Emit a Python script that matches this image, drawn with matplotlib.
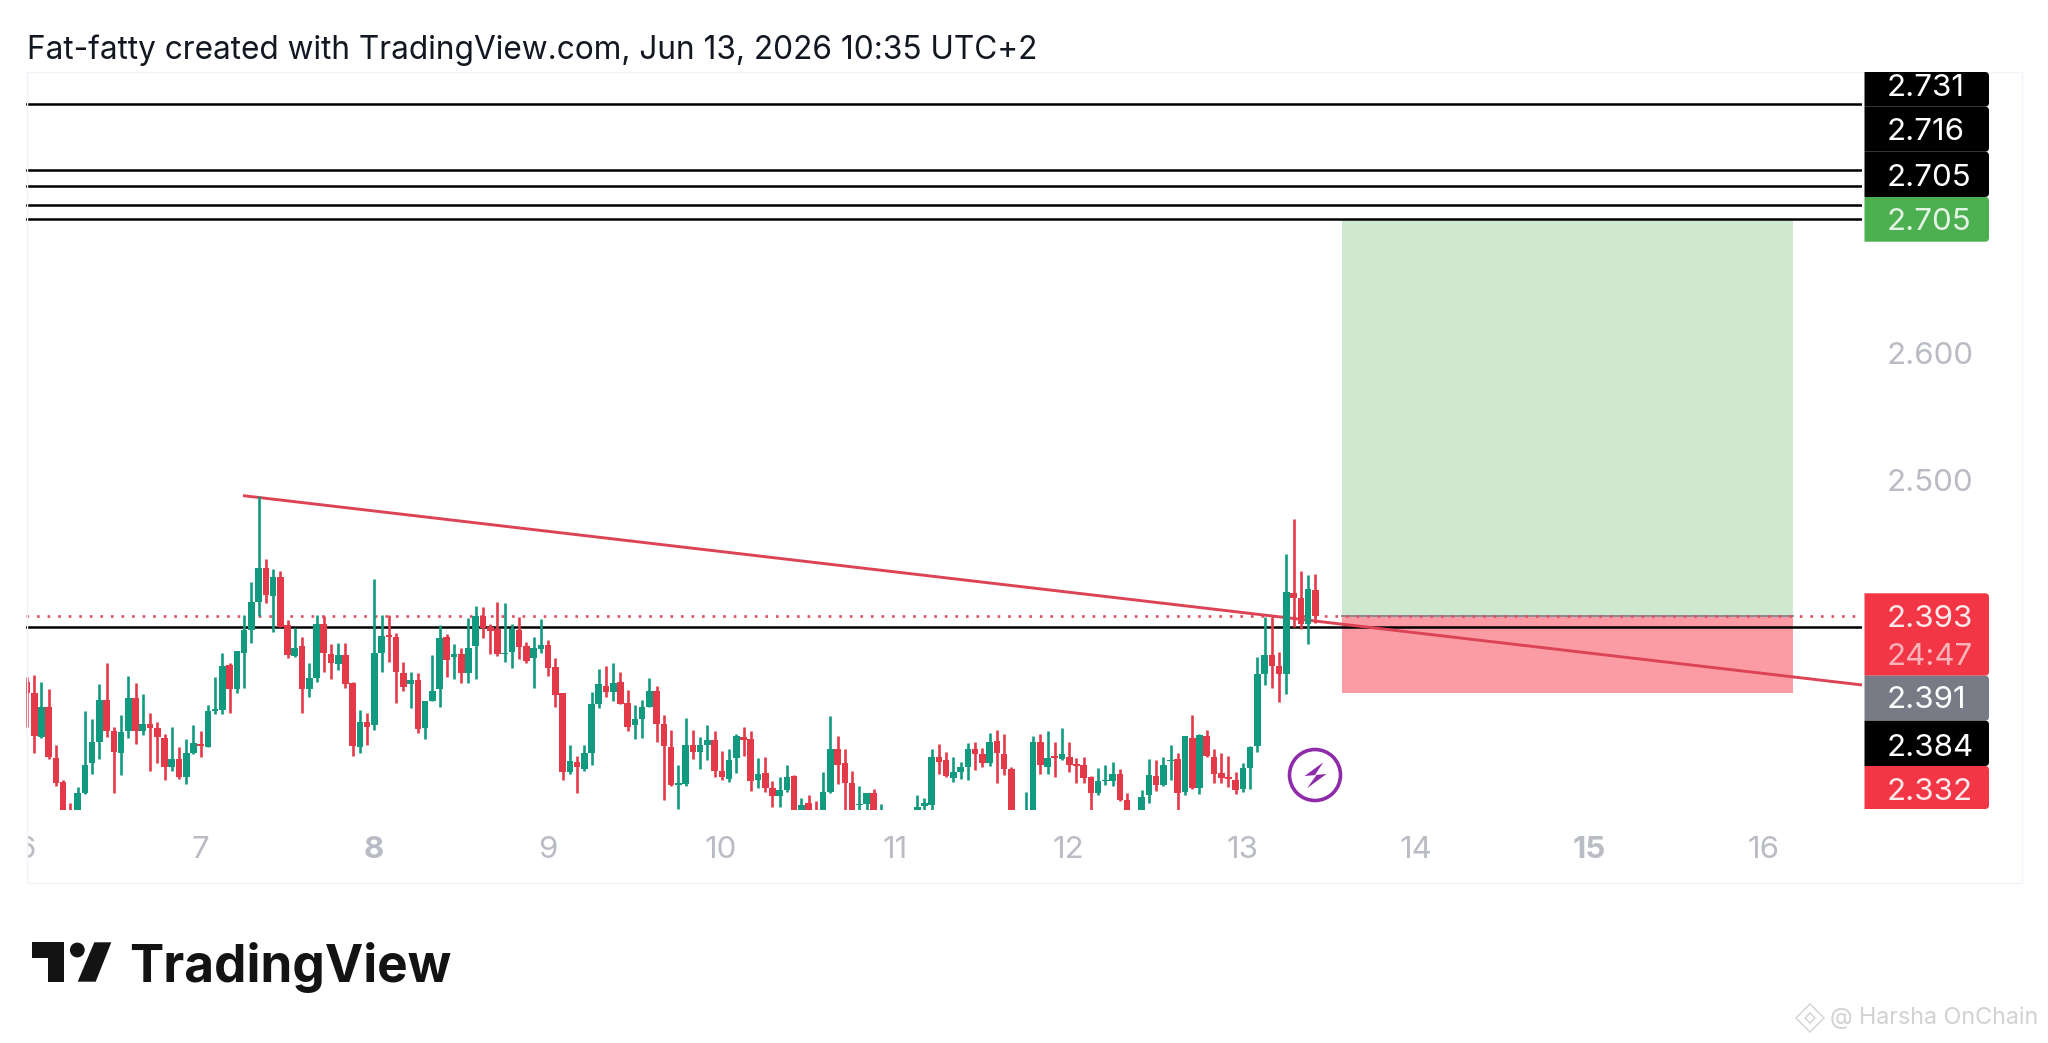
import numpy as np
import matplotlib
matplotlib.use("Agg")
import matplotlib.pyplot as plt
from matplotlib.patches import Rectangle, Polygon, Circle, PathPatch
from matplotlib.path import Path
from matplotlib.transforms import Bbox

FONT = ["Inter", "DejaVu Sans"]
plt.rcParams["font.family"] = FONT

TITLE = "Fat-fatty created with TradingView.com, Jun 13, 2026 10:35 UTC+2"
n = float("nan")

# Hourly candles, prices in thousandths; every candle not listed in falling rises
falling = [0, 1, 3, 4, 5, 6, 11, 12, 15, 17, 18, 19, 21, 24, 28, 33, 35, 36, 38, 41, 42, 44, 45, 47,
           50, 51, 52, 54, 58, 60, 63, 64, 65, 68, 69, 72, 73, 74, 76, 80, 82, 83, 87, 88, 89, 92,
           95, 96, 99, 100, 102, 103, 106, 108, 109, 112, 113, 114, 117, 126, 127, 131, 132, 134,
           135, 136, 140, 142, 144, 145, 146, 147, 151, 152, 156, 159, 161, 163, 164, 165, 166,
           167, 172, 173, 175, 176, 178]

highs = [2345.1, 2346.4, 2340.7, 2335.2, 2291.3, 2263.8, 2245.9, 2258.5, 2318.4, 2312.3,
         2339.4, 2355.6, 2305.8, 2314.9, 2345.9, 2339.9, 2331.2, 2317, 2309.7, 2300.5,
         2305.8, 2289.5, 2295.8, 2307.1, 2302.6, 2322.8, 2345.1, 2363.5, 2355.6, 2365.3,
         2393.7, 2419.9, 2487.7, 2437.5, 2429.9, 2428.3, 2389.8, 2383.2, 2376.1, 2355.6,
         2393.7, 2392.9, 2370.9, 2371.4, 2371.9, 2340.7, 2318.9, 2317, 2421.8, 2393.7,
         2393.7, 2379.3, 2356.9, 2349.1, 2348.3, 2326.2, 2362.2, 2385.8, 2378.5, 2370.9,
         2368, 2391.1, 2400.8, 2399.7, 2386.6, 2404.2, 2402.9, 2386.6, 2391.9, 2372.7,
         2376.1, 2390.3, 2374, 2360.1, 2332.5, 2291.3, 2282.7, 2291.3, 2332.8, 2350.9,
         2353.8, 2355.6, 2349.1, 2334.6, 2323.3, 2326.8, 2344.3, 2337.8, 2314.9, 2303.1,
         2276.1, 2312.8, 2303.1, 2297.9, 2307.1, 2302.3, 2286.9, 2288.7, 2300.5, 2305.8,
         2302.3, 2281.3, 2282.1, 2263.2, 2265.9, 2275.6, 2267.7, 2250.1, 2251.9, 2247.5,
         2270.3, 2314.2, 2298.7, 2288.7, 2270.8, 2259, 2254, 2257.2, 2244.9, n,
         n, n, n, 2252, 2249.9, 2288.7, 2291.9, 2286.1, 2282.2, 2277.7,
         2293.2, 2294, 2289.3, 2301.1, 2303.2, 2300.5, 2274.3, n, 2254.1, 2298.7,
         2300, 2302.4, 2293.5, 2304.5, 2293.5, 2281.6, 2282.2, 2267, 2273, 2276.1,
         2277.7, 2272.2, 2253.8, n, 2256.4, 2280.1, 2279.6, 2282.2, 2291.4, 2284.8,
         2298.4, 2315, 2300.5, 2303.2, 2288.7, 2284.8, 2282.7, 2270.4, 2277, 2290.8,
         2360.4, 2392.4, 2392.4, 2364.9, 2441.5, 2469.3, 2428.6, 2425.2, 2426]

body_tops = [2341.2, 2332, 2321, 2321.5, 2281.6, 2262.2, 2235, 2253.3, 2276.1, 2293.9,
             2326.8, 2326.8, 2302.6, 2301.8, 2328.6, 2328.6, 2307.6, 2307.6, 2305.2, 2297.1,
             2280.8, 2280.8, 2284.8, 2293.2, 2292.6, 2318.4, 2319.7, 2353.5, 2354.3, 2365.3,
             2381.9, 2404.2, 2430.4, 2430.4, 2423.9, 2423.4, 2385.8, 2368, 2369.3, 2343.8,
             2386.6, 2386.6, 2363, 2362.2, 2362.2, 2340.4, 2309.7, 2309.7, 2363.5, 2377.4,
             2377.9, 2376.1, 2348.5, 2342.5, 2342.5, 2326, 2333.8, 2375.3, 2376.1, 2362.7,
             2362.7, 2368, 2392.9, 2392.9, 2384, 2382.7, 2364, 2382.4, 2381.9, 2369.3,
             2367.4, 2370.1, 2370.1, 2353, 2332.5, 2279, 2277.7, 2284.8, 2324.1, 2339.1,
             2337.8, 2339.9, 2340.7, 2324.9, 2312.3, 2321.5, 2333.8, 2333.8, 2307.6, 2290,
             2261.6, 2291.8, 2291.8, 2291.8, 2295, 2295, 2270.8, 2280, 2298.7, 2297.9,
             2296, 2268.5, 2269.8, 2258, 2256.4, 2265.9, 2267.2, 2244.6, 2245.9, 2238,
             2254.6, 2288.2, 2288.2, 2276.9, 2261.7, 2245.4, 2253.3, 2254, 2236, n,
             n, n, n, 2242.8, 2246, 2282.2, 2281.7, 2279.6, 2270.4, 2274.3,
             2288.7, 2288.7, 2284, 2294, 2294.8, 2284, 2272.2, n, 2238, 2293.5,
             2293.5, 2281.6, 2282.7, 2284.3, 2282.2, 2276.4, 2275.6, 2266.4, 2263, 2264.3,
             2268.5, 2269, 2248, n, 2250.7, 2267.7, 2267.2, 2275.6, 2279.8, 2280.1,
             2298.4, 2296.6, 2299.2, 2298.7, 2282.2, 2269.6, 2266.4, 2263.8, 2273, 2290,
             2347, 2362.2, 2362.2, 2353.6, 2411.6, 2410.8, 2406.9, 2414, 2413.4]

body_bots = [2332, 2298.4, 2297.9, 2282.1, 2261.7, 2235, 2230, 2238, 2253.3, 2276.9,
             2293.9, 2302.6, 2286.1, 2284.8, 2302.6, 2302.6, 2302.6, 2305.2, 2297.9, 2274.3,
             2274.3, 2265.9, 2265.9, 2284.8, 2290.8, 2290, 2318.4, 2318.9, 2335.2, 2335.2,
             2364, 2381.9, 2404.2, 2409.4, 2408.9, 2384.5, 2362.2, 2361.7, 2335.4, 2335.4,
             2343.8, 2363.5, 2355.6, 2355.1, 2339.4, 2290.8, 2289.5, 2305.8, 2307.1, 2363.5,
             2376.6, 2349.1, 2337.3, 2339.4, 2303.7, 2305, 2326.2, 2335.2, 2358.3, 2360.4,
             2348.3, 2348.3, 2369.5, 2383.2, 2381.4, 2362.7, 2362.7, 2364.8, 2368.8, 2357.5,
             2360.1, 2366.9, 2351.7, 2330.7, 2270.3, 2270.3, 2274.3, 2272.4, 2285.5, 2323.6,
             2333.3, 2333.3, 2323.6, 2305.8, 2307.1, 2312.3, 2321.5, 2307.6, 2290.8, 2259.8,
             2260.3, 2260.6, 2286.1, 2286.1, 2291.8, 2270.8, 2265.9, 2265, 2281.6, 2295.3,
             2263.2, 2263.8, 2258, 2251.4, 2251.4, 2255.9, 2238, 2238, 2238, 2232,
             2238, 2254.6, 2275.6, 2261.7, 2238, 2244.1, 2245.4, 2238, 2232, n,
             n, n, n, 2238, 2243.3, 2244.1, 2277.7, 2267, 2265.6, 2270.4,
             2274.3, 2284.3, 2277.5, 2277.5, 2284.8, 2272.2, 2238, n, 2234, 2238,
             2275.6, 2274.3, 2281.6, 2280.1, 2275.6, 2275.1, 2265.1, 2253.3, 2253.8, 2263,
             2263.3, 2248, 2238, n, 2238, 2252, 2259.9, 2259.9, 2278.8, 2253.8,
             2254.6, 2258, 2258, 2282.7, 2269, 2265.1, 2264.6, 2255.9, 2257.2, 2273,
             2290.8, 2347, 2353.6, 2347, 2347.3, 2406.9, 2386.6, 2386.6, 2393]

lows = [2305.8, 2284.8, 2296.6, 2280.8, 2259, 2230, 2225, 2235, 2252.7, 2269,
        2280.8, 2297.9, 2253.8, 2268.2, 2296.6, 2292.6, 2299.2, 2270.8, 2276.9, 2263.8,
        2271.1, 2264.5, 2261.1, 2284.2, 2282.1, 2289.5, 2315.5, 2315.5, 2317, 2332,
        2336.7, 2371.4, 2392.9, 2403.4, 2380.6, 2384, 2359.6, 2360.9, 2317, 2328.9,
        2341.2, 2349.1, 2343.3, 2350.4, 2336.7, 2282.9, 2285.5, 2291.3, 2303.1, 2349.1,
        2356.9, 2324.7, 2334.1, 2320.2, 2301, 2295.8, 2326, 2321.5, 2345.1, 2343.3,
        2339.9, 2339.9, 2343.3, 2375.3, 2363, 2361.4, 2356.4, 2351.7, 2359, 2355.6,
        2336.5, 2363.5, 2345.7, 2321.5, 2264.3, 2268.5, 2254, 2270.8, 2275.6, 2320.2,
        2328.9, 2326.2, 2323.6, 2302.6, 2295.8, 2296.6, 2321, 2293.9, 2248.5, 2259.3,
        2241.4, 2259.3, 2280.3, 2272.4, 2280, 2265.9, 2263.8, 2262.4, 2269.5, 2282.9,
        2255.4, 2257.7, 2254.6, 2242.8, 2242.8, 2254.6, 2235, 2235, 2235, 2230,
        2235, 2254, 2261.1, 2238, 2235, 2238, 2238, 2235, 2228, n,
        n, n, n, 2235, 2238, 2238, 2268.5, 2266.4, 2262.5, 2264.6,
        2264.3, 2271.7, 2274.3, 2275.1, 2261.7, 2267.7, 2235, n, 2232, 2235,
        2268.5, 2269, 2266.4, 2279.6, 2270.4, 2261.7, 2261.2, 2238, 2252, 2259.9,
        2259.1, 2247.5, 2235, n, 2235, 2246, 2255.4, 2259.1, 2263.8, 2240,
        2252, 2257.2, 2252.8, 2282.2, 2261.7, 2261.7, 2258.6, 2252.8, 2254.1, 2257.2,
        2285.6, 2338.6, 2336, 2325, 2331.5, 2384, 2382.7, 2370.9, 2387.2]

day_ticks = [6, 7, 8, 9, 10, 11, 12, 13, 14, 15, 16]
bold_days = [8, 15]
price_ticks = [2.5, 2.6]
level_lines = [2.7957, 2.744, 2.7312, 2.7165, 2.7052, 2.384]
last_price = 2.393
entry_price = 2.393
target_price = 2.705
stop_price = 2.332
box_days = [13.574, 16.17]
trend_days = [7.2476, 16.568]
trend_prices = [2.4877, 2.3387]
first_candle_day = 6.004

GREEN, RED, BLACK = "#129a80", "#e33a49", "#000000"
W, H = 2048, 1043
fig = plt.figure(figsize=(W / 100, H / 100), dpi=100, facecolor="white")
L, R, T, B = 26.3, 1862, 72, 810
ax = fig.add_axes([L / W, 1 - B / H, (R - L) / W, (B - T) / H])
ax.set_xlim(6.0, 16.568)
ax.set_ylim(2.2403, 2.8211)
for s in ax.spines.values():
    s.set_visible(False)

hi, lo = np.array(highs) / 1000, np.array(lows) / 1000
top, bot = np.array(body_tops) / 1000, np.array(body_bots) / 1000
days = first_candle_day + np.arange(len(hi)) / 24
cols = np.array([RED if i in set(falling) else GREEN for i in range(len(hi))])

# position boxes
ax.add_patch(Rectangle((box_days[0], entry_price), box_days[1] - box_days[0], target_price - entry_price,
                       fc="#cfe8d0", ec="none", zorder=1))
ax.add_patch(Rectangle((box_days[0], stop_price), box_days[1] - box_days[0], entry_price - stop_price,
                       fc="#fb9ca5", ec="none", zorder=1))
ax.plot(box_days, [entry_price, entry_price], color="#8a8a90", lw=1.4, zorder=1.5)
for v in level_lines:
    ax.axhline(v, color=BLACK, lw=1.8, zorder=2)
ax.axhline(last_price, color="#d9505e", lw=1.9, ls=(0, (1, 3)), zorder=2)
ax.plot(trend_days, trend_prices, color="#dc4455", lw=2.1, zorder=2.5, solid_capstyle="butt")

ok = ~np.isnan(hi)
ax.vlines(days[ok], lo[ok], hi[ok], colors=cols[ok], lw=1.9, zorder=3)
ax.bar(days[ok], (top - bot)[ok], bottom=bot[ok], width=6.6 / 173.7, color=cols[ok], lw=0, zorder=3.1)

ax.set_xticks(day_ticks)
ax.set_xticklabels([str(d) for d in day_ticks])
ax.yaxis.tick_right()
ax.set_yticks(price_ticks)
ax.set_yticklabels([f"{p:.3f}" for p in price_ticks])
ax.tick_params(axis="both", length=0, labelcolor="#b9bcc4", labelsize=22.5)
ax.tick_params(axis="x", pad=19)
ax.tick_params(axis="y", pad=18)
clip = Bbox([[27, 0], [W, H]])
for d, lab in zip(day_ticks, ax.get_xticklabels()):
    lab.set_clip_box(clip)
    lab.set_clip_on(True)
    if d in bold_days:
        lab.set_fontweight("bold")

# overlay in figure pixels
ov = fig.add_axes([0, 0, 1, 1], facecolor="none")
ov.set_xlim(0, W)
ov.set_ylim(H, 0)
ov.axis("off")
ov.add_patch(Rectangle((27, 72), 1995, 811, fc="none", ec="#f0f3fa", lw=1))
ov.text(27, 50, TITLE, fontsize=22.75, color="#131722", va="center", ha="left")


def tag(y0, y1, color):
    x0, x1, r = 1864.5, 1989, 4
    verts = [(x0, y0), (x1 - r, y0), (x1, y0), (x1, y0 + r), (x1, y1 - r), (x1, y1), (x1 - r, y1), (x0, y1), (x0, y0)]
    codes = [Path.MOVETO, Path.LINETO, Path.CURVE3, Path.CURVE3, Path.LINETO, Path.CURVE3, Path.CURVE3, Path.LINETO, Path.CLOSEPOLY]
    ov.add_patch(PathPatch(Path(verts, codes), fc=color, ec="none"))


tag(72, 106.7, "#000000")
tag(106.7, 151.7, "#000000")
tag(151.7, 197, "#000000")
tag(197, 241.7, "#4caf50")
tag(593.3, 675.7, "#f23645")
tag(675.7, 720.7, "#787b86")
tag(720.7, 766, "#000000")
tag(766, 809, "#f23645")
labels = [("2.731", 88, "white"), ("2.716", 132, "white"), ("2.705", 177.5, "white"), ("2.705", 222, "#e4f4e4"),
          ("2.393", 619, "#fde8ea"), ("24:47", 657, "#f9b3b9"), ("2.391", 700.5, "white"), ("2.384", 747.5, "white"),
          ("2.332", 791.5, "#fde8ea")]
for s, y, c in labels:
    ov.text(1887, y, s, color=c, fontsize=22.5, ha="left", va="center")

# lightning badge
ov.add_patch(Circle((1315, 775), 25.5, fc="white", ec="#8e2ba8", lw=2.6))
bolt = [(1323.3, 762.3), (1304.5, 776), (1316.5, 775), (1307, 788.3), (1326.5, 774), (1315, 775)]
ov.add_patch(Polygon(bolt, fc="#8e2ba8", ec="none"))

# TradingView logo
ov.add_patch(Polygon([(32, 942.3), (64, 942.3), (64, 981.7), (48, 981.7), (48, 957.7), (32, 957.7)], fc="#131313", ec="none"))
ov.add_patch(Circle((77.3, 950), 7.4, fc="#131313", ec="none"))
ov.add_patch(Polygon([(94.3, 942.3), (111.3, 942.3), (95.7, 981.7), (77.7, 981.7)], fc="#131313", ec="none"))
ov.text(129, 981.7, "TradingView", fontsize=37, fontweight="bold", color="#131313", ha="left", va="baseline")

# watermark
ov.text(1830, 1018, "@ Harsha OnChain", fontsize=16.8, color="#d2d2d2", ha="left", va="center")
ov.add_patch(Polygon([(1796, 1018), (1810, 1004), (1824, 1018), (1810, 1032)], fc="none", ec="#d8d8d8", lw=1.2))
ov.add_patch(Polygon([(1805, 1018), (1810, 1013), (1815, 1018), (1810, 1023)], fc="none", ec="#d8d8d8", lw=1.2))

fig.savefig("out.png", dpi=100)
